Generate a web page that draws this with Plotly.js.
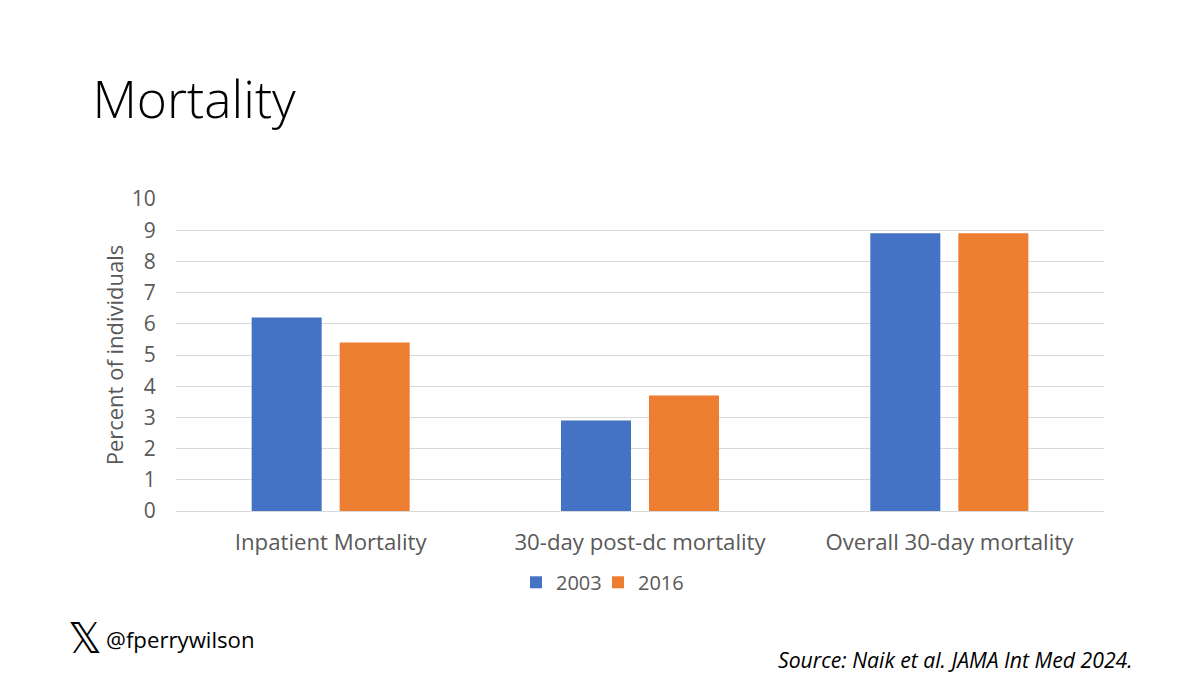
<!DOCTYPE html>
<html><head><meta charset="utf-8">
<script src="https://cdn.plot.ly/plotly-3.0.1.min.js"></script>
<style>html,body{margin:0;padding:0;background:#fff}
.legend .scrollbox,.legend .legendtoggle,.legend{clip-path:none !important}</style></head>
<body><div id="chart" style="width:1200px;height:675px"></div>
<script>
const categories = ["Inpatient Mortality", "30-day post-dc mortality", "Overall 30-day mortality"];
const series2003 = [6.2, 2.9, 8.9];
const series2016 = [5.4, 3.7, 8.9];
const yTicks = [0,1,2,3,4,5,6,7,8,9,10];
const font = "'Open Sans', 'Noto Sans', sans-serif";
const grey = "#595959";
Plotly.newPlot("chart", [
 {type:"bar", name:"2003", x:categories, y:series2003, marker:{color:"#4472C4"}},
 {type:"bar", name:"2016", x:categories, y:series2016, marker:{color:"#ED7D31"}}
], {
 width:1200, height:675, paper_bgcolor:"#fff", plot_bgcolor:"#fff",
 margin:{l:176,r:96,t:199,b:164},
 barmode:"group", bargap:0.431, bargroupgap:0.2045,
 title:{text:"Mortality", x:0.077, xanchor:"left", y:0.852, yanchor:"middle", font:{family:font, size:51.5, weight:300, color:"#000"}},
 showlegend:true,
 legend:{orientation:"h", x:(516-176)/928, xanchor:"left", y:-0.166, yanchor:"top", font:{family:font,size:20,color:grey}, traceorder:"normal", entrywidth:37, entrywidthmode:"pixels"},
 xaxis:{type:"category", tickfont:{family:font,size:22.2,color:grey}, showline:true, linecolor:"#d9d9d9", linewidth:1, ticks:"outside", ticklen:11, tickcolor:"rgba(0,0,0,0)", showgrid:false},
 yaxis:{range:[0,10], tickvals:yTicks, tickfont:{family:font,size:21,color:grey}, gridcolor:"#d9d9d9", gridwidth:1, zeroline:false, showline:false, ticks:"outside", ticklen:15, tickcolor:"rgba(0,0,0,0)",
  title:{text:"Percent of individuals", font:{family:font,size:22,color:grey}, standoff:2}},
 annotations:[
  {text:"@fperrywilson", xref:"paper", yref:"paper", x:(104-176)/928, y:(511-639)/312, xanchor:"left", yanchor:"middle", showarrow:false, font:{family:font,size:22.2,color:"#000"}},
  {text:"𝕏", xref:"paper", yref:"paper", x:(66-176)/928, y:(511-638)/312, xanchor:"left", yanchor:"middle", showarrow:false, font:{family:"'DejaVu Sans'",size:42,color:"#000"}},
  {text:"<i>Source: Naik et al. JAMA Int Med 2024.</i>", xref:"paper", yref:"paper", x:(1135-176)/928, y:(511-659)/312, xanchor:"right", yanchor:"middle", showarrow:false, font:{family:font,size:21.2,color:"#000"}}
 ]
}, {displayModeBar:false});
</script></body></html>
